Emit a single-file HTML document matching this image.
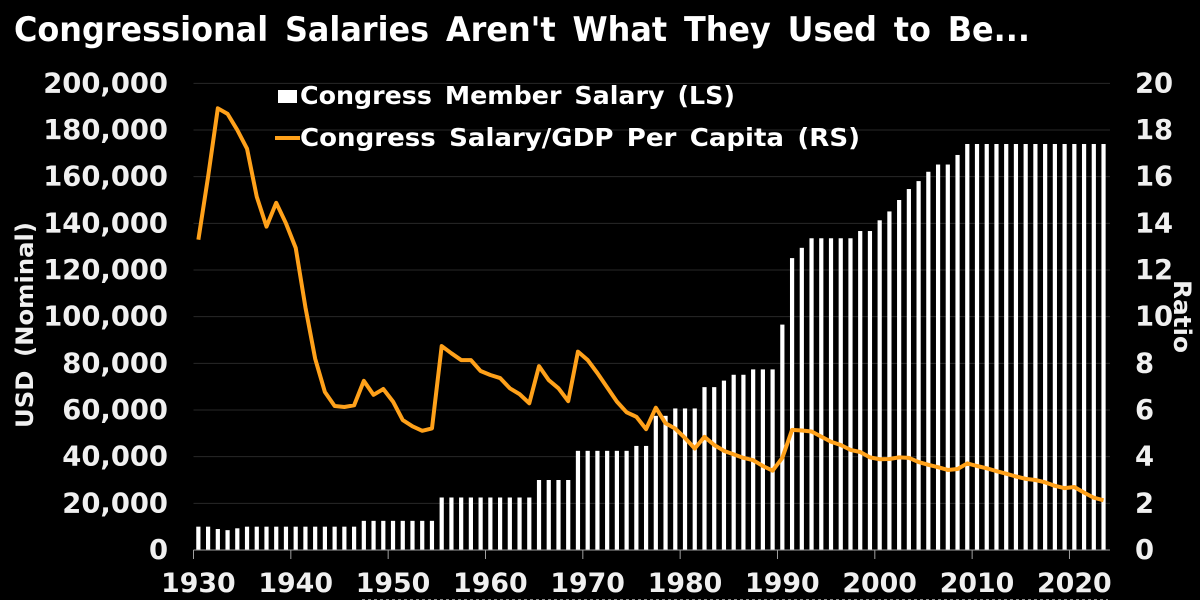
<!DOCTYPE html>
<html>
<head>
<meta charset="utf-8">
<title>Congressional Salaries</title>
<style>
html,body{margin:0;padding:0;background:#000;width:1200px;height:600px;overflow:hidden}
svg{display:block}
text{font-family:"DejaVu Sans","Liberation Sans",sans-serif;font-weight:bold;fill:#f0f0f0}
</style>
</head>
<body>
<svg id="chart" xmlns="http://www.w3.org/2000/svg" width="1200" height="600" viewBox="0 0 1200 600">
<rect width="1200" height="600" fill="#000"/>
<g id="grid"></g>
<g id="bars"></g>
<g id="axes"></g>
<g id="line"></g>
<text x="14" y="41" font-size="33.5" textLength="1016" lengthAdjust="spacingAndGlyphs" style="font-family:'DejaVu Sans',sans-serif;fill:#fff;word-spacing:6px">Congressional Salaries Aren't What They Used to Be...</text>
<text transform="translate(33,428) rotate(-90)" font-size="24" textLength="206" lengthAdjust="spacingAndGlyphs" style="word-spacing:5px">USD (Nominal)</text>
<text transform="translate(1174,280) rotate(90)" font-size="24" textLength="73" lengthAdjust="spacingAndGlyphs">Ratio</text>
<rect x="278" y="90" width="19" height="13" fill="#fff"/>
<text x="300" y="104" font-size="24.5" textLength="435" lengthAdjust="spacingAndGlyphs" style="fill:#fff;word-spacing:4px">Congress Member Salary (LS)</text>
<line x1="275" y1="138" x2="300" y2="138" stroke="#ffa11a" stroke-width="4"/>
<text x="300" y="146" font-size="24.5" textLength="560" lengthAdjust="spacingAndGlyphs" style="fill:#fff;word-spacing:4px">Congress Salary/GDP Per Capita (RS)</text>
<line x1="362" y1="599.5" x2="1108" y2="599.5" stroke="#888" stroke-width="1" stroke-dasharray="3 3"/>
</svg>
<script>
var years = [1930,1931,1932,1933,1934,1935,1936,1937,1938,1939,1940,1941,1942,1943,1944,1945,1946,1947,1948,1949,1950,1951,1952,1953,1954,1955,1956,1957,1958,1959,1960,1961,1962,1963,1964,1965,1966,1967,1968,1969,1970,1971,1972,1973,1974,1975,1976,1977,1978,1979,1980,1981,1982,1983,1984,1985,1986,1987,1988,1989,1990,1991,1992,1993,1994,1995,1996,1997,1998,1999,2000,2001,2002,2003,2004,2005,2006,2007,2008,2009,2010,2011,2012,2013,2014,2015,2016,2017,2018,2019,2020,2021,2022,2023];
var salaries = [10000,10000,9000,8500,9300,10000,10000,10000,10000,10000,10000,10000,10000,10000,10000,10000,10000,12500,12500,12500,12500,12500,12500,12500,12500,22500,22500,22500,22500,22500,22500,22500,22500,22500,22500,30000,30000,30000,30000,42500,42500,42500,42500,42500,42500,44600,44600,57500,57500,60662,60662,60662,69800,69800,72600,75100,75100,77400,77400,77400,96600,125100,129500,133600,133600,133600,133600,133600,136700,136700,141300,145100,150000,154700,158100,162100,165200,165200,169300,174000,174000,174000,174000,174000,174000,174000,174000,174000,174000,174000,174000,174000,174000,174000];
var ratios = [13.3,16.0,18.93,18.69,18.0,17.2,15.14,13.86,14.88,14.0,12.95,10.4,8.2,6.77,6.17,6.13,6.2,7.25,6.65,6.9,6.36,5.57,5.3,5.11,5.21,8.74,8.43,8.14,8.14,7.67,7.5,7.37,6.93,6.68,6.29,7.88,7.28,6.93,6.38,8.5,8.14,7.58,6.97,6.36,5.9,5.71,5.18,6.1,5.43,5.2,4.8,4.35,4.85,4.5,4.25,4.1,3.95,3.85,3.6,3.4,3.95,5.15,5.12,5.08,4.86,4.64,4.5,4.29,4.2,3.97,3.89,3.9,3.97,3.95,3.77,3.65,3.55,3.43,3.47,3.71,3.6,3.5,3.38,3.27,3.15,3.05,3.0,2.9,2.75,2.65,2.7,2.46,2.24,2.13];
var leftTicks = [0,20000,40000,60000,80000,100000,120000,140000,160000,180000,200000];
var leftTickLabels = ["0","20,000","40,000","60,000","80,000","100,000","120,000","140,000","160,000","180,000","200,000"];
var rightTicks = [0,2,4,6,8,10,12,14,16,18,20];
var rightTickLabels = ["0","2","4","6","8","10","12","14","16","18","20"];
var xTicks = [1930,1940,1950,1960,1970,1980,1990,2000,2010,2020];
var xTickLabels = ["1930","1940","1950","1960","1970","1980","1990","2000","2010","2020"];

var NS = 'http://www.w3.org/2000/svg';
var plotLeft = 193.5, plotRight = 1110, plotBottom = 550, plotTop = 83.33;
var yearPx = 9.733;
function xEdge(y) { return plotLeft + (y - 1930) * yearPx; }
function xMid(y) { return xEdge(y) + yearPx / 2; }
function yLeft(v) { return plotBottom - v / 200000 * (plotBottom - plotTop); }
function yRight(v) { return plotBottom - v / 20 * (plotBottom - plotTop); }
function make(tag, parent, attrs) {
  var el = document.createElementNS(NS, tag);
  for (var k in attrs) el.setAttribute(k, attrs[k]);
  parent.appendChild(el);
  return el;
}
var gridG = document.getElementById('grid');
var barsG = document.getElementById('bars');
var axesG = document.getElementById('axes');
var lineG = document.getElementById('line');

leftTicks.forEach(function (t, i) {
  if (t > 0) {
    var g = make('line', gridG, {x1: plotLeft, x2: plotRight, y1: yLeft(t), y2: yLeft(t), stroke: '#282828', 'stroke-width': 1});
    
    
  }
  var lab = make('text', axesG, {x: 168, y: yLeft(t) + 9, 'text-anchor': 'end', 'font-size': 27.4});
  lab.textContent = leftTickLabels[i];
  
  
});
rightTicks.forEach(function (t, i) {
  var lab = make('text', axesG, {x: 1135, y: yRight(t) + 9, 'font-size': 27.4});
  lab.textContent = rightTickLabels[i];
  
  
});
years.forEach(function (y, i) {
  var top = yLeft(salaries[i]);
  var b = make('rect', barsG, {x: xMid(y) - 2.1, y: top, width: 4.2, height: plotBottom - top, fill: '#fff'});
  
  
});
var axisLine = make('line', axesG, {x1: plotLeft, x2: plotRight, y1: plotBottom, y2: plotBottom, stroke: '#a0a0a0', 'stroke-width': 1});


xTicks.forEach(function (t, i) {
  var tick = make('line', axesG, {x1: xEdge(t), x2: xEdge(t), y1: plotBottom, y2: plotBottom + 9, stroke: '#a0a0a0', 'stroke-width': 1});
  
  
  var lab = make('text', axesG, {x: xMid(t), y: 592, 'text-anchor': 'middle', 'font-size': 26.8});
  lab.textContent = xTickLabels[i];
  
  
});
var pts = years.map(function (y, i) { return xMid(y).toFixed(2) + ',' + yRight(ratios[i]).toFixed(2); }).join(' ');
var poly = make('polyline', lineG, {points: pts, fill: 'none', stroke: '#ffa11a', 'stroke-width': 4, 'stroke-linejoin': 'round'});


</script>
</body>
</html>
